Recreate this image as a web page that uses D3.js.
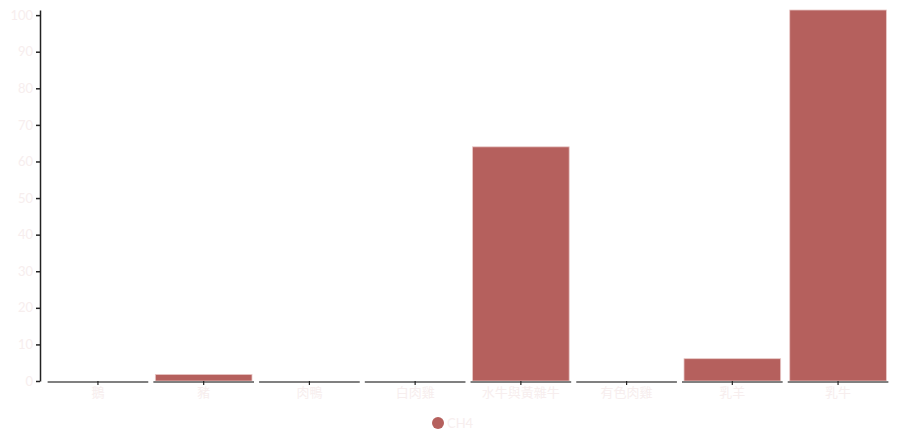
<!DOCTYPE html>
<html>
<head>
<meta charset="utf-8">
<script src="https://cdn.jsdelivr.net/npm/d3@7"></script>
<style>
  body { margin: 0; background: #fff; }
  text { font-family: "Lato", "Noto Sans CJK TC", sans-serif; }
</style>
</head>
<body>
<svg id="drawing_region"></svg>
<script>
const categories = ['鵝', '豬', '肉鴨', '白肉雞', '水牛與黃雜牛', '有色肉雞', '乳羊', '乳牛'];
const ch4_values = [0, 1.8, 0, 0, 64.0, 0, 6.1, 101.4];
const y_ticks = [0, 10, 20, 30, 40, 50, 60, 70, 80, 90, 100];
const series_name = 'CH4';

const config = {
    width: 906,
    height: 443,
    margin: {top: 10, right: 15, bottom: 62, left: 40}
};

const bar_color = '#b5605d';
const text_color = '#f7eeee';

const svg = d3.select('#drawing_region')
    .attr('width', config.width)
    .attr('height', config.height);

const inner_width = config.width - config.margin.left - config.margin.right;
const inner_height = config.height - config.margin.top - config.margin.bottom;

const chart = svg.append('g')
    .attr('transform', `translate(${config.margin.left}, ${config.margin.top})`);

const xscale = d3.scaleBand()
    .domain(categories)
    .range([5.5, inner_width - 0.5])
    .paddingInner(0.048)
    .paddingOuter(0.02);

const yscale = d3.scaleLinear()
    .domain([0, d3.max(ch4_values)])
    .range([inner_height, 0]);

// y axis
const yaxis_group = chart.append('g')
    .call(d3.axisLeft(yscale).tickValues(y_ticks).tickSize(4).tickSizeOuter(0));
yaxis_group.select('.domain').attr('stroke', '#222').attr('stroke-width', 1.5);
yaxis_group.selectAll('.tick line').attr('stroke', '#222').attr('stroke-width', 1.5);
yaxis_group.selectAll('.tick text')
    .attr('fill', text_color)
    .attr('font-size', 13)
    .attr('x', -7);

// bars
chart.selectAll('rect.bar')
    .data(ch4_values)
    .join('rect')
    .attr('class', 'bar')
    .attr('x', (d, i) => xscale(categories[i]) + 2)
    .attr('y', d => yscale(d))
    .attr('width', xscale.bandwidth() - 4)
    .attr('height', d => inner_height - yscale(d))
    .attr('fill', bar_color)
    .attr('stroke', '#e9c9c7')
    .attr('stroke-width', 0.8);

// per-category baseline segments
chart.selectAll('line.base')
    .data(categories)
    .join('line')
    .attr('class', 'base')
    .attr('x1', d => xscale(d))
    .attr('x2', d => xscale(d) + xscale.bandwidth())
    .attr('y1', inner_height + 1)
    .attr('y2', inner_height + 1)
    .attr('stroke', '#808080')
    .attr('stroke-width', 2);

// x ticks and labels
const xaxis_group = chart.append('g')
    .attr('transform', `translate(0, ${inner_height})`)
    .call(d3.axisBottom(xscale).tickSize(4).tickSizeOuter(0));
xaxis_group.select('.domain').remove();
xaxis_group.selectAll('.tick line').attr('stroke', '#222').attr('stroke-width', 1.2);
xaxis_group.selectAll('.tick text')
    .attr('fill', text_color)
    .attr('font-size', 13)
    .attr('y', 7);

// legend
const legend = svg.append('g')
    .attr('transform', 'translate(438, 423)');
legend.append('circle')
    .attr('r', 6)
    .attr('fill', bar_color);
legend.append('text')
    .attr('x', 9)
    .attr('y', 4.5)
    .attr('fill', text_color)
    .attr('font-size', 13)
    .text(series_name);
</script>
</body>
</html>
